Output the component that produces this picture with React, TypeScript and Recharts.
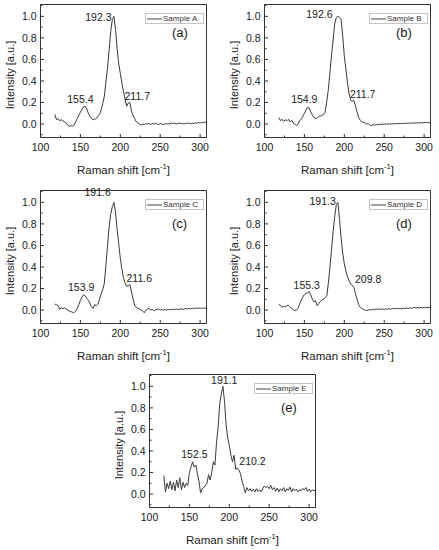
import React from "react";
import { LineChart, Line, XAxis, YAxis, Legend, ReferenceDot, ReferenceArea } from "recharts";

// Raman shift grid [cm-1]
const ramanShift = [
  118, 120, 122, 124, 126, 128, 130, 132, 134, 136,
  138, 140, 142, 144, 146, 148, 150, 152, 154, 156,
  158, 160, 162, 164, 166, 168, 170, 172, 174, 176,
  178, 180, 182, 184, 186, 188, 190, 192, 194, 196,
  198, 200, 202, 204, 206, 208, 210, 212, 214, 216,
  218, 220, 222, 224, 226, 228, 230, 232, 234, 236,
  238, 240, 242, 244, 246, 248, 250, 252, 254, 256,
  258, 260, 262, 264, 266, 268, 270, 272, 274, 276,
  278, 280, 282, 284, 286, 288, 290, 292, 294, 296,
  298, 300, 302, 304, 306, 308,
];

const sampleA = [
  0.09, 0.04, 0.05, 0.03, 0.04, 0.03, 0.02, 0.01, -0.01, -0.02,
  -0.015, -0.02, -0.01, 0.02, 0.05, 0.08, 0.11, 0.14, 0.16, 0.165,
  0.14, 0.1, 0.07, 0.05, 0.04, 0.045, 0.05, 0.07, 0.09, 0.13,
  0.19, 0.26, 0.39, 0.52, 0.69, 0.86, 0.97, 1.0, 0.88, 0.7,
  0.56, 0.47, 0.38, 0.3, 0.23, 0.165, 0.195, 0.2, 0.12, 0.08,
  0.05, 0.02, 0.01, 0, -0.01, 0, -0.005, 0.005, 0, 0.005,
  -0.005, 0.005, 0, 0.008, 0, -0.005, 0.005, 0, -0.005, 0.003,
  0, 0.006, 0, 0.012, 0.002, 0.008, 0, 0.005, 0.01, 0.003,
  0.006, 0, 0.008, 0.004, 0.01, 0.002, 0.008, 0.005, 0.012, 0.006,
  0.015, 0.008, 0.018, 0.012, 0.02, 0.01,
];

const sampleB = [
  0.06, 0.03, 0.045, 0.025, 0.04, 0.03, 0.045, 0.02, 0.035, 0.01,
  0, -0.015, 0, 0.03, 0.045, 0.07, 0.1, 0.13, 0.155, 0.15,
  0.11, 0.085, 0.06, 0.05, 0.055, 0.07, 0.075, 0.08, 0.09, 0.11,
  0.21, 0.32, 0.48, 0.64, 0.78, 0.93, 0.99, 1.0, 0.99, 0.97,
  0.82, 0.63, 0.51, 0.38, 0.28, 0.22, 0.21, 0.22, 0.17, 0.11,
  0.06, 0.035, 0.02, 0.015, 0.01, 0, 0.005, -0.01, -0.015, -0.005,
  -0.01, -0.005, -0.008, 0, -0.005, 0, -0.003, 0.002, -0.002, 0.003,
  0, 0.004, 0, 0.005, 0.002, 0.006, 0.003, 0.008, 0.004, 0.008,
  0.005, 0.01, 0.006, 0.01, 0.007, 0.012, 0.008, 0.012, 0.009, 0.014,
  0.01, 0.015, 0.012, 0.016, 0.012, 0.015,
];

const sampleC = [
  0.055, 0.05, 0.04, 0.005, 0.025, 0.01, 0.02, 0.01, 0, -0.01,
  -0.015, -0.02, -0.025, -0.01, 0.015, 0.05, 0.09, 0.12, 0.14, 0.13,
  0.11, 0.09, 0.06, 0.03, 0.015, 0.05, 0.04, 0.055, 0.1, 0.15,
  0.19, 0.25, 0.42, 0.6, 0.77, 0.89, 0.96, 1.0, 0.91, 0.75,
  0.62, 0.48, 0.38, 0.3, 0.25, 0.22, 0.225, 0.235, 0.17, 0.1,
  0.045, 0.025, 0.015, 0.01, 0, -0.01, -0.025, 0, 0.01, 0.015,
  0, 0.005, -0.005, 0, 0.005, 0.01, 0, 0.005, -0.003, 0.005,
  0, 0.006, 0.002, 0.008, 0.003, 0.006, 0.01, 0.004, 0.008, 0.012,
  0.006, 0.01, 0.014, 0.008, 0.016, 0.012, 0.018, 0.012, 0.02, 0.015,
  0.018, 0.02, 0.014, 0.02, 0.016, 0.018,
];

const sampleD = [
  0.05, 0.045, 0.025, 0.035, 0.03, 0.04, 0.045, 0.03, 0.015, 0.005,
  -0.005, 0, 0.015, 0.06, 0.09, 0.12, 0.145, 0.155, 0.16, 0.17,
  0.14, 0.1, 0.075, 0.085, 0.04, 0.06, 0.08, 0.095, 0.1, 0.115,
  0.13, 0.25, 0.4, 0.56, 0.73, 0.87, 0.98, 1.0, 0.84, 0.67,
  0.53, 0.43, 0.36, 0.31, 0.27, 0.24, 0.23, 0.21, 0.15, 0.1,
  0.05, 0.025, 0.015, 0.005, 0, -0.005, 0, 0.005, 0, 0.008,
  0.004, 0.01, 0.005, 0.012, 0.006, 0.01, 0.004, 0.012, 0.006, 0.014,
  0.008, 0.012, 0.016, 0.01, 0.018, 0.012, 0.016, 0.01, 0.018, 0.012,
  0.02, 0.014, 0.022, 0.016, 0.02, 0.026, 0.018, 0.024, 0.02, 0.026,
  0.02, 0.025, 0.02, 0.026, 0.022, 0.025,
];

const sampleE = [
  0.17, 0.02, 0.1, 0.05, 0.12, 0.04, 0.11, 0.03, 0.13, 0.06,
  0.15, 0.04, 0.11, 0.06, 0.1, 0.08, 0.2, 0.25, 0.3, 0.25,
  0.27, 0.19, 0.12, 0.01, 0.05, 0.06, 0.08, 0.1, 0.18, 0.13,
  0.2, 0.3, 0.27, 0.48, 0.62, 0.84, 0.93, 1.0, 0.86, 0.64,
  0.52, 0.45, 0.36, 0.3, 0.36, 0.23, 0.24, 0.22, 0.19, 0.12,
  0.07, 0.01, 0.06, 0.03, 0.05, 0.025, 0.045, 0.02, 0.05, 0.025,
  0.04, 0.02, 0.05, 0.075, 0.06, 0.07, 0.05, 0.08, 0.04, 0.06,
  0.025, 0.055, 0.02, 0.05, 0.03, 0.06, 0.02, 0.05, 0.035, 0.065,
  0.02, 0.05, 0.03, 0.045, 0.02, 0.04, 0.03, 0.05, 0.04, 0.06,
  0.025, 0.045, 0.02, 0.04, 0.03, 0.035,
];

// labelled peak positions [cm-1]
const peaksA = [155.4, 192.3, 211.7];
const peaksB = [154.9, 192.6, 211.7];
const peaksC = [153.9, 191.6, 211.6];
const peaksD = [155.3, 191.3, 209.8];
const peaksE = [152.5, 191.1, 210.2];

const sampleNames = ["Sample A", "Sample B", "Sample C", "Sample D", "Sample E"];
const panelTags = ["(a)", "(b)", "(c)", "(d)", "(e)"];

const xTicks = [100, 125, 150, 175, 200, 225, 250, 275, 300];
const yTicks = [-0.1, 0, 0.1, 0.2, 0.3, 0.4, 0.5, 0.6, 0.7, 0.8, 0.9, 1.0, 1.1];

const X_DOMAIN: [number, number] = [100, 308];
const Y_DOMAIN: [number, number] = [-0.125, 1.11];

const FONT = "'Liberation Sans', Arial, Helvetica, sans-serif";
const INK = "#1a1a1a";
const FRAME = "#333333";

const isMajorX = (v: number) => v % 50 === 0;
const isMajorY = (v: number) => Math.round(v * 10) % 2 === 0;

const BottomTick = ({ x, y, payload }: any) => {
  const major = isMajorX(payload.value);
  return (
    <g>
      <line x1={x} x2={x} y1={y} y2={y - (major ? 3.5 : 2)} stroke={FRAME} />
      {major && (
        <text x={x} y={y + 13.5} textAnchor="middle" fontSize={10.5} fontFamily={FONT} fill={INK}>
          {payload.value}
        </text>
      )}
    </g>
  );
};

const TopTick = ({ x, y, payload }: any) => (
  <line x1={x} x2={x} y1={y} y2={y + (isMajorX(payload.value) ? 3.5 : 2)} stroke={FRAME} />
);

const LeftTick = ({ x, y, payload }: any) => {
  const major = isMajorY(payload.value);
  return (
    <g>
      <line x1={x} x2={x + (major ? 3.5 : 2)} y1={y} y2={y} stroke={FRAME} />
      {major && (
        <text x={x - 4} y={y + 3.7} textAnchor="end" fontSize={10.5} fontFamily={FONT} fill={INK}>
          {payload.value.toFixed(1)}
        </text>
      )}
    </g>
  );
};

const RightTick = ({ x, y, payload }: any) => (
  <line x1={x} x2={x - (isMajorY(payload.value) ? 3.5 : 2)} y1={y} y2={y} stroke={FRAME} />
);

const xTitle = (props: any) => {
  const { x, y, width } = props.viewBox;
  return (
    <text x={x + width / 2} y={y + 36} textAnchor="middle" fontSize={11.5} fontFamily={FONT} fill={INK}>
      Raman shift [cm
      <tspan dy={-4.5} fontSize={7.5}>-1</tspan>
      <tspan dy={4.5}>]</tspan>
    </text>
  );
};

const yTitle = (props: any) => {
  const { y, height } = props.viewBox;
  const cx = 10;
  const cy = y + height / 2 + 4;
  return (
    <text
      x={cx}
      y={cy}
      transform={`rotate(-90 ${cx} ${cy})`}
      textAnchor="middle"
      dominantBaseline="central"
      fontSize={11}
      fontFamily={FONT}
      fill={INK}
    >
      Intensity [a.u.]
    </text>
  );
};

function valueAt(values: number[], s: number) {
  for (let i = 0; i < ramanShift.length - 1; i++) {
    const a = ramanShift[i];
    const b = ramanShift[i + 1];
    if (s >= a && s <= b) {
      const t = (s - a) / (b - a);
      return values[i] + t * (values[i + 1] - values[i]);
    }
  }
  return 0;
}

type PanelProps = {
  index: number;
  values: number[];
  peaks: number[];
  left: number;
  top: number;
  offsets: [number, number][];
  tagTop: number;
};

function Panel({ index, values, peaks, left, top, offsets, tagTop }: PanelProps) {
  const data = ramanShift.map((s, i) => ({ shift: s, intensity: values[i] }));
  const name = sampleNames[index];
  const tag = panelTags[index];

  const legend = () => (
    <div style={{ position: "relative", fontFamily: FONT }}>
      <div
        style={{
          width: 59,
          height: 11,
          border: "1px solid #c4c4c4",
          boxSizing: "border-box",
          display: "flex",
          alignItems: "center",
          fontSize: 8,
          lineHeight: "9px",
          color: "#333",
          background: "#fff",
        }}
      >
        <svg width={17} height={8} style={{ flex: "none" }}>
          <line x1={1} x2={16} y1={4} y2={4} stroke="#444" strokeWidth={1} />
        </svg>
        <span style={{ whiteSpace: "nowrap" }}>{name}</span>
      </div>
      <span
        style={{
          position: "absolute",
          left: 27,
          top: tagTop,
          fontSize: 13,
          lineHeight: "13px",
          color: INK,
        }}
      >
        {tag}
      </span>
    </div>
  );

  return (
    <div style={{ position: "absolute", left, top }}>
      <LineChart width={215} height={182} data={data} margin={{ top: 4.5, right: 8.5, bottom: 0.5, left: 0 }}>
        <XAxis
          dataKey="shift"
          type="number"
          domain={X_DOMAIN}
          ticks={xTicks}
          interval={0}
          tickSize={0}
          tickMargin={0}
          tickLine={false}
          tick={BottomTick}
          height={44}
          stroke={FRAME}
          axisLine={{ stroke: FRAME }}
          label={xTitle}
          allowDataOverflow
        />
        <XAxis
          xAxisId="top"
          orientation="top"
          dataKey="shift"
          type="number"
          domain={X_DOMAIN}
          ticks={xTicks}
          interval={0}
          tickSize={0}
          tickMargin={0}
          tickLine={false}
          tick={TopTick}
          height={0}
          stroke={FRAME}
          axisLine={{ stroke: FRAME }}
          allowDataOverflow
        />
        <YAxis
          type="number"
          domain={Y_DOMAIN}
          ticks={yTicks}
          interval={0}
          tickSize={0}
          tickMargin={0}
          tickLine={false}
          tick={LeftTick}
          width={40.5}
          stroke={FRAME}
          axisLine={{ stroke: FRAME }}
          label={yTitle}
          allowDataOverflow
        />
        <YAxis
          yAxisId="right"
          orientation="right"
          type="number"
          domain={Y_DOMAIN}
          ticks={yTicks}
          interval={0}
          tickSize={0}
          tickMargin={0}
          tickLine={false}
          tick={RightTick}
          width={0}
          stroke={FRAME}
          axisLine={{ stroke: FRAME }}
          allowDataOverflow
        />
        <ReferenceArea
          x1={X_DOMAIN[0]}
          x2={X_DOMAIN[1]}
          y1={Y_DOMAIN[0]}
          y2={Y_DOMAIN[1]}
          fill="none"
          fillOpacity={0}
          stroke={FRAME}
          strokeWidth={1}
          ifOverflow="visible"
        />
        <Line
          dataKey="intensity"
          type="linear"
          stroke="#3a3a3a"
          strokeWidth={1}
          dot={false}
          isAnimationActive={false}
        />
        {peaks.map((p, i) => (
          <ReferenceDot
            key={p}
            x={p}
            y={valueAt(values, p)}
            r={0}
            fill="none"
            stroke="none"
            label={(lp: any) => {
              const vb = lp.viewBox;
              return (
                <text
                  x={vb.x + offsets[i][0]}
                  y={vb.y + offsets[i][1] + 3.8}
                  textAnchor="middle"
                  fontSize={10.5}
                  fontFamily={FONT}
                  fill={INK}
                >
                  {p.toFixed(1)}
                </text>
              );
            }}
          />
        ))}
        <Legend
          layout="horizontal"
          verticalAlign="middle"
          align="center"
          content={legend}
          wrapperStyle={{ top: 13, left: 145, width: 59, height: 11 }}
        />
      </LineChart>
    </div>
  );
}

export default function App() {
  return (
    <div
      style={{
        position: "absolute",
        left: 0,
        top: 0,
        width: 439,
        height: 550,
        background: "#fff",
        overflow: "hidden",
        fontFamily: FONT,
      }}
    >
      <Panel
        index={0}
        values={sampleA}
        peaks={peaksA}
        left={0}
        top={0}
        tagTop={13}
        offsets={[[-4.3, -7.5], [-15.8, -1.5], [7.6, -6]]}
      />
      <Panel
        index={1}
        values={sampleB}
        peaks={peaksB}
        left={224}
        top={0}
        tagTop={13}
        offsets={[[-4, -8], [-19, -2], [9, -6]]}
      />
      <Panel
        index={2}
        values={sampleC}
        peaks={peaksC}
        left={0}
        top={186}
        tagTop={18}
        offsets={[[-2.4, -8], [-16, -11], [9.7, -6.4]]}
      />
      <Panel
        index={3}
        values={sampleD}
        peaks={peaksD}
        left={224}
        top={186}
        tagTop={18}
        offsets={[[-1.9, -6.5], [-14.7, -2], [16, -5.7]]}
      />
      <Panel
        index={4}
        values={sampleE}
        peaks={peaksE}
        left={109}
        top={370}
        tagTop={18}
        offsets={[[3, -11.5], [2, -10], [15, -7]]}
      />
    </div>
  );
}
